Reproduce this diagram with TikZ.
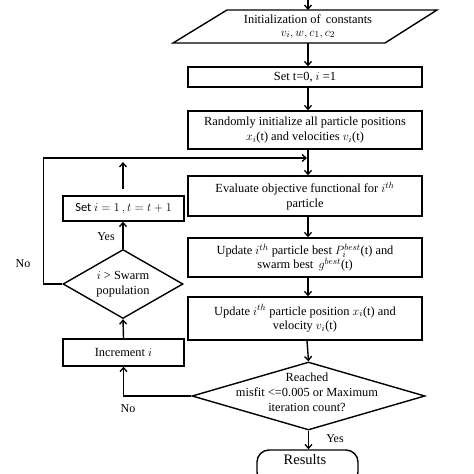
\documentclass[tikz,border=0pt]{standalone}
\usepackage{fontspec}
\setmainfont{Liberation Serif}
\newfontfamily\calib{Carlito}
\usetikzlibrary{arrows.meta,shapes.geometric,calc}
\begin{document}
\begin{tikzpicture}[x=1pt,y=-1pt,
  every node/.style={font=\fontsize{12.4}{14.8}\selectfont},
  proc/.style={draw,line width=1.4pt,minimum width=234pt,align=center,inner sep=1pt},
  dia/.style={draw,line width=1.4pt,diamond,inner sep=0pt},
  lbl/.style={font=\fontsize{12}{12}\selectfont,inner sep=0pt},
  arr/.style={line width=1.4pt,-{Straight Barb[length=4pt,width=7pt,line width=1.3pt]}},
  ln/.style={line width=1.4pt}]
\useasboundingbox (0,0) rectangle (474,474);
\clip (0,0) rectangle (474,474);
% parallelogram
\draw[ln] (227,10) -- (437,10) -- (385,43) -- (173,43) -- cycle;
\node[align=center] (init) at (308,26.5) {Initialization of\, constants\\[-2pt] $v_i, w, c_1, c_2$};
\coordinate (top) at (308,0);
\coordinate (inittop) at (308,10);
\coordinate (initbot) at (308,43);
\node[proc,minimum height=20pt] (set) at (305,77) {Set t=0, $i$ =1};
\node[proc,minimum height=38pt] (rand) at (305,130) {Randomly initialize all particle positions\\ $x_i$(t) and velocities $v_i$(t)};
\node[proc,minimum height=40pt] (eval) at (305,196) {Evaluate objective functional for $i^{th}$\\ particle};
\node[proc,minimum height=39pt] (upd1) at (305,257.5) {Update $i^{th}$ particle best $P_i^{best}$(t) and\\[-1pt] swarm best\, $g^{best}$(t)};
\node[proc,minimum height=43pt] (upd2) at (305,318.5) {Update $i^{th}$ particle position $x_i$(t) and\\ velocity $v_i$(t)};
\node[dia,minimum width=233pt,minimum height=68pt] (chk) at (308.5,396) {};
\node[align=center] at (307,392) {Reached\\ misfit <=0.005 or Maximum\\ iteration count?};
\node[draw,line width=1.4pt,rounded corners=12pt,minimum width=101pt,minimum height=34pt] (res) at (307.5,467) {};
\node[font=\fontsize{14.5}{16}\selectfont] at (305,460) {Results};
% left column
\node[proc,minimum width=121pt,minimum height=25pt] (seti) at (123.5,208.5) {\calib Set $i=1\,, t=t+1$};
\node[dia,minimum width=120pt,minimum height=69pt] (sw) at (123,284) {};
\node[align=center] at (123,284) {$i$ > Swarm\\ population};
\node[proc,minimum width=121pt,minimum height=27pt] (inc) at (123.5,352.5) {Increment $i$};
% labels
\node[lbl] at (106,237) {Yes};
\node[lbl] at (23,264) {No};
\node[lbl] at (128,409) {No};
\node[lbl] at (335,439) {Yes};
% connectors
\coordinate (join) at (307,158);
\coordinate (setiup) at (123,189);
\coordinate (setiend) at (123,162);
\draw[arr] (top) -- (inittop);
\draw[arr] (initbot) -- ([xshift=3pt]set.north);
\draw[arr] ([xshift=3pt]set.south) -- ([xshift=3pt]rand.north);
\draw[arr] ([xshift=3pt]rand.south) -- ([xshift=3pt]eval.north);
\draw[arr] ([xshift=3pt]eval.south) -- ([xshift=3pt]upd1.north);
\draw[arr] ([xshift=3pt]upd1.south) -- ([xshift=3pt]upd2.north);
\draw[arr] ([xshift=2pt]upd2.south) -- (chk.north);
\draw[arr] (chk.south) -- (chk.south |- res.north);
\draw[arr] (chk.west) -| (inc.south);
\draw[arr] (inc.north) -- (sw.south);
\draw[arr] (sw.north) -- (sw.north |- seti.south);
\draw[arr] (setiup) -- (setiend);
\draw[arr] (sw.west) -- ++(-19,0) |- (join);
\end{tikzpicture}
\end{document}
